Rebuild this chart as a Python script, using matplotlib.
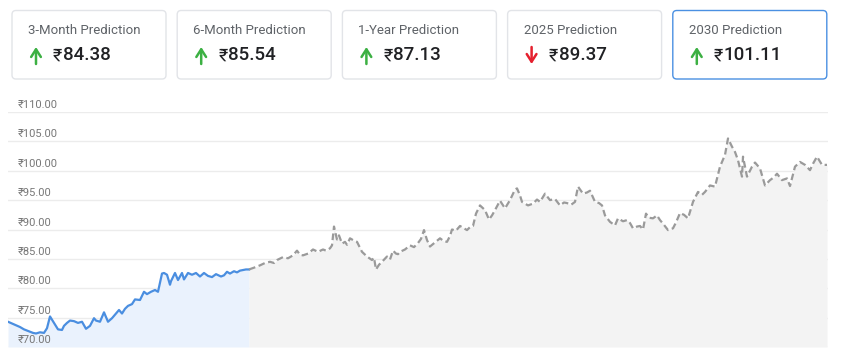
import matplotlib
matplotlib.use("Agg")
import matplotlib.pyplot as plt
from matplotlib.patches import FancyBboxPatch

plt.rcParams["font.family"] = ["Roboto", "DejaVu Sans"]

# prediction cards
card_titles = ["3-Month Prediction", "6-Month Prediction", "1-Year Prediction",
               "2025 Prediction", "2030 Prediction"]
card_values = [84.38, 85.54, 87.13, 89.37, 101.11]
card_up = [True, True, True, False, True]

# price history (solid blue) and forecast (dashed grey), x = time step
hist_t = [0, 4, 8, 12, 16, 19, 22, 25, 28, 32, 36, 39, 42, 46, 50, 54, 56, 59,
          62, 66, 70, 74, 78, 82, 86, 88, 92, 96, 100, 104, 108, 111, 114, 117,
          120, 124, 127, 132, 136, 139, 143, 147, 150, 154, 156, 159, 162, 163,
          167, 170, 174, 176, 180, 184, 188, 192, 196, 200, 204, 208, 213, 216,
          219, 222, 226, 229, 232, 235, 238, 241]
hist_v = [74.3, 74.0, 73.7, 73.4, 73.0, 72.8, 72.6, 72.4, 72.3, 72.5, 72.4, 73.2,
          75.2, 74.1, 73.0, 72.9, 73.6, 74.1, 74.5, 74.4, 74.1, 74.3, 73.1, 73.6,
          74.9, 74.5, 74.3, 75.9, 74.3, 74.9, 75.7, 76.3, 75.7, 76.5, 77.0, 77.3,
          78.1, 78.0, 79.4, 79.0, 79.4, 79.7, 79.4, 82.5, 82.6, 82.3, 80.6, 81.2,
          82.6, 81.4, 82.6, 81.5, 82.6, 82.3, 82.6, 82.0, 82.6, 82.1, 81.9, 82.4,
          82.0, 82.2, 82.8, 82.5, 82.9, 82.7, 83.0, 83.1, 83.2, 83.2]
fc_t = [241, 246, 252, 257, 262, 266, 269, 275, 280, 285,
        289, 292, 295, 300, 305, 310, 315, 318, 322, 324,
        326, 329, 331, 334, 337, 339, 342, 346, 349, 354,
        359, 364, 366, 368, 371, 374, 379, 382, 385, 388,
        390, 392, 397, 402, 406, 410, 413, 416, 419, 422,
        427, 432, 436, 439, 442, 444, 448, 452, 456, 459,
        462, 465, 468, 472, 477, 481, 484, 487, 492, 497,
        502, 507, 509, 512, 514, 520, 525, 529, 532, 537,
        542, 547, 552, 556, 559, 563, 567, 570, 575, 579,
        582, 587, 591, 594, 597, 602, 607, 610, 615, 619,
        622, 625, 629, 632, 635, 638, 641, 645, 649, 652,
        655, 660, 665, 668, 672, 676, 680, 685, 690, 694,
        697, 702, 707, 712, 717, 720, 724, 727, 730, 734,
        735, 739, 744, 747, 752, 757, 762, 766, 769, 774,
        779, 782, 787, 792, 797, 802, 805, 809, 814, 819]
fc_v = [83.2, 83.5, 83.9, 84.3, 84.5, 84.3, 84.8, 85.3, 85.1, 85.6,
        86.4, 85.7, 85.6, 85.9, 86.6, 86.2, 86.6, 86.4, 86.8, 87.3,
        90.5, 88.3, 89.0, 87.6, 87.9, 87.4, 88.5, 88.1, 87.9, 86.2,
        85.4, 84.8, 85.2, 83.2, 84.0, 84.5, 85.4, 84.9, 86.4, 85.9,
        85.8, 86.2, 86.6, 87.3, 87.0, 87.7, 88.4, 89.9, 88.2, 87.1,
        87.8, 88.5, 88.0, 87.9, 88.9, 90.0, 89.8, 90.6, 90.2, 89.9,
        90.4, 90.6, 92.7, 94.1, 93.3, 91.7, 92.4, 93.3, 94.9, 93.6,
        95.0, 96.8, 97.0, 95.8, 94.7, 94.1, 94.4, 95.1, 94.7, 96.1,
        95.0, 95.2, 94.1, 94.6, 94.5, 94.2, 94.7, 97.3, 96.1, 96.3,
        96.6, 94.7, 94.5, 94.1, 92.4, 91.3, 90.7, 91.9, 91.4, 91.6,
        91.1, 90.2, 90.5, 90.6, 90.0, 92.7, 92.0, 91.9, 92.4, 91.6,
        91.0, 89.9, 90.2, 91.2, 92.8, 92.5, 91.9, 94.7, 96.4, 95.9,
        96.4, 97.5, 97.3, 100.7, 102.7, 105.5, 104.1, 103.2, 101.8, 99.0,
        102.4, 99.0, 100.7, 101.4, 100.4, 97.5, 98.4, 98.9, 99.5, 98.4,
        98.7, 97.4, 100.7, 101.5, 101.0, 100.1, 101.2, 102.4, 101.0, 101.0]
y_ticks = [70, 75, 80, 85, 90, 95, 100, 105, 110]

W, H = 843, 361
fig = plt.figure(figsize=(W / 100, H / 100), dpi=100)

# chart
ax = fig.add_axes([8 / W, (H - 347) / H, 820 / W, 235 / H])
ax.set_xlim(0, 820)
ax.set_ylim(70, 110)
for v in y_ticks:
    ax.axhline(v, color="#ececec", lw=1, zorder=0)
    ax.annotate("₹%.2f" % v, xy=(0, v), xycoords=("axes fraction", "data"),
                xytext=(10, 2), textcoords="offset pixels", va="bottom",
                ha="left", fontsize=8, color="#777777")
ax.fill_between(hist_t, hist_v, 70, color="#eaf2fd", lw=0, zorder=1)
ax.fill_between(fc_t, fc_v, 70, color="#f3f3f3", lw=0, zorder=1)
ax.plot(hist_t, hist_v, color="#4a8ee0", lw=1.6, zorder=3)
ax.plot(fc_t, fc_v, color="#9a9a9a", lw=1.6, ls=(0, (3, 1.6)), zorder=3)
for s in ax.spines.values():
    s.set_visible(False)
ax.set_xticks([])
ax.set_yticks([])

# cards overlay in pixel coordinates
ov = fig.add_axes([0, 0, 1, 1], zorder=5)
ov.set_xlim(0, W)
ov.set_ylim(H, 0)
ov.axis("off")
for i, (title, val, up) in enumerate(zip(card_titles, card_values, card_up)):
    x0 = 12 + i * 165.2
    edge = "#4a90e2" if i == 4 else "#e2e4e8"
    ov.add_patch(FancyBboxPatch((x0, 10.5), 154, 68.5,
                                boxstyle="round,pad=0,rounding_size=4",
                                fc="white", ec=edge, lw=1))
    ov.text(x0 + 16, 30, title, fontsize=9.5, color="#5f6368",
            va="center", ha="left")
    # arrow
    col = "#3cb043" if up else "#e5202e"
    y_tail, y_head = (64, 47) if up else (47, 64)
    ov.annotate("", xy=(x0 + 24, y_head), xytext=(x0 + 24, y_tail),
                arrowprops=dict(arrowstyle="->,head_length=0.55,head_width=0.35",
                                lw=1.8, color=col, shrinkA=0, shrinkB=0))
    ov.text(x0 + 41, 55.5, "₹", fontsize=13, color="#202124",
            va="center", ha="left")
    ov.text(x0 + 51, 55.5, "%.2f" % val, fontsize=13.5, color="#202124",
            va="center", ha="left", weight="medium")

fig.savefig("out.png", dpi=100)
